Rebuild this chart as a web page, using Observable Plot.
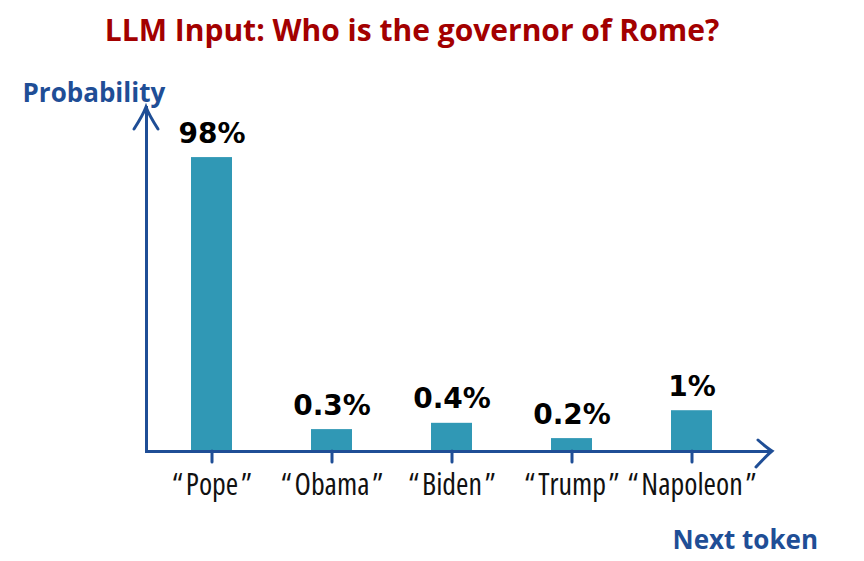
<!DOCTYPE html>
<html><head><meta charset="utf-8">
<script src="https://cdn.jsdelivr.net/npm/d3@7"></script>
<script src="https://cdn.jsdelivr.net/npm/@observablehq/plot@0.6"></script>
<style>
body{margin:0;background:#fff;}
#title{height:58px;margin:0;display:flex;align-items:center;justify-content:center;font:700 30px "Open Sans";color:#a30000;padding-right:40px;box-sizing:border-box}
#chart{margin-top:2px}
g[aria-label="x-axis tick label"] text{font-stretch:75%}
</style></head><body>
<div id="title">LLM Input: Who is the governor of Rome?</div>
<div id="chart"></div>
<script>
const tokens = ["Pope", "Obama", "Biden", "Trump", "Napoleon"];
const probLabels = ["98%", "0.3%", "0.4%", "0.2%", "1%"];
// drawn bar heights (chart units, Pope = 98)
const barHeights = [98, 7.3, 9.4, 4.3, 13.6];
const yAxisTop = 114.7;

const data = tokens.map((t, i) => ({token: t, h: barHeights[i], label: probLabels[i]}));

const blue = "#1f4e96";
const W = 864, H = 501, mL = 146, mR = 108, mT = 47, mB = 110;
const frameH = H - mT - mB;

const plot = Plot.plot({
  width: W, height: H,
  marginLeft: mL, marginRight: mR, marginTop: mT, marginBottom: mB,
  style: {fontFamily: "Open Sans", background: "#fff"},
  x: {domain: tokens, paddingInner: 0.66, paddingOuter: 0.365, label: null},
  y: {domain: [0, yAxisTop], axis: null},
  marks: [
    Plot.barY(data, {x: "token", y: "h", fill: "#3098b5"}),
    Plot.ruleY([0], {stroke: blue, strokeWidth: 3, insetRight: -16}),
    Plot.frame({anchor: "left", stroke: blue, strokeWidth: 3}),
    Plot.tickX(tokens, {x: d => d, stroke: blue, strokeWidth: 3, strokeLinecap: "round", insetTop: frameH, insetBottom: -11}),
    Plot.axisX({tickSize: 0, tickPadding: 22, fontSize: 30, fill: "#111",
      fontFamily: "Open Sans",
      tickFormat: d => `\u201C\u200A${d}\u200A\u201D`}),
    Plot.text(data, {x: "token", y: "h", text: "label", dy: -15, lineAnchor: "bottom",
      fontSize: 28, fontWeight: 700, fill: "#000", fontFamily: "DejaVu Sans"}),
    Plot.text(["Probability"], {frameAnchor: "top-left", dx: -124, dy: -24, textAnchor: "start",
      fontSize: 26, fontWeight: 700, fill: blue}),
    Plot.text(["Next token"], {frameAnchor: "bottom-right", dx: -84, dy: 97, textAnchor: "start",
      fontSize: 26, fontWeight: 700, fill: blue})
  ]
});

const svg = d3.select(plot);
const x0 = mL, yT = mT, y0 = H - mB, xE = W - mR + 16;
svg.append("path")
  .attr("d", `M${x0 - 12},${yT + 22} Q${x0 - 3},${yT + 8} ${x0},${yT} Q${x0 + 3},${yT + 8} ${x0 + 12},${yT + 22}`)
  .attr("fill", "none").attr("stroke", blue).attr("stroke-width", 3).attr("stroke-linecap", "round");
svg.append("path")
  .attr("d", `M${xE - 14},${y0 - 11} Q${xE - 5},${y0 - 3} ${xE},${y0} Q${xE - 6},${y0 + 5} ${xE - 16},${y0 + 16}`)
  .attr("fill", "none").attr("stroke", blue).attr("stroke-width", 3).attr("stroke-linecap", "round");

document.getElementById("chart").appendChild(plot);
</script>
</body></html>
